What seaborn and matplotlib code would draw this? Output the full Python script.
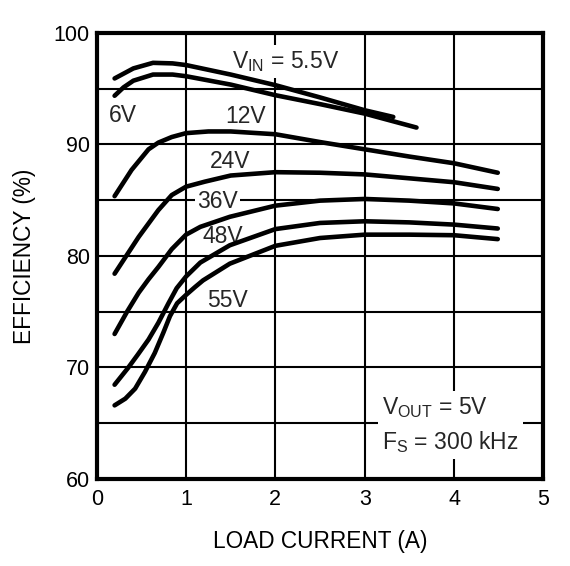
import numpy as np
import pandas as pd
import seaborn as sns
import matplotlib
matplotlib.use("Agg")
from matplotlib import pyplot as plt

# efficiency curves
vin_labels = ["5.5V", "6V", "12V", "24V", "36V", "48V", "55V"]

x_55 = [0.2, 0.41, 0.63, 0.85, 1.0, 1.5, 2.0, 2.5, 3.0, 3.32]
y_55 = [95.9, 96.8, 97.3, 97.25, 97.1, 96.25, 95.3, 94.2, 93.05, 92.45]

x_6 = [0.2, 0.3, 0.41, 0.63, 0.85, 1.0, 1.5, 2.0, 2.5, 3.0, 3.58]
y_6 = [94.35, 95.1, 95.7, 96.25, 96.25, 96.1, 95.35, 94.4, 93.6, 92.75, 91.5]

x_12 = [0.2, 0.39, 0.58, 0.69, 0.84, 1.0, 1.25, 1.5, 2.0, 2.5, 3.0, 3.5, 4.0, 4.49]
y_12 = [85.35, 87.7, 89.55, 90.15, 90.65, 91.0, 91.15, 91.15, 90.9, 90.2, 89.55, 88.9, 88.3, 87.45]

x_24 = [0.2, 0.47, 0.69, 0.84, 1.0, 1.21, 1.5, 2.0, 2.5, 3.0, 3.5, 4.0, 4.49]
y_24 = [78.4, 81.7, 84.1, 85.45, 86.2, 86.65, 87.2, 87.5, 87.45, 87.3, 86.95, 86.6, 86.0]

x_36 = [0.2, 0.34, 0.47, 0.58, 0.69, 0.84, 1.0, 1.16, 1.49, 2.0, 2.5, 3.0, 3.5, 4.0, 4.49]
y_36 = [73.0, 75.0, 76.7, 77.9, 79.0, 80.6, 81.9, 82.6, 83.5, 84.5, 84.95, 85.1, 84.95, 84.7, 84.2]

x_48 = [0.2, 0.35, 0.46, 0.58, 0.69, 0.8, 0.895, 1.0, 1.16, 1.49, 2.0, 2.5, 3.0, 3.5, 4.0, 4.49]
y_48 = [68.45, 69.95, 71.15, 72.5, 74.0, 75.7, 77.1, 78.15, 79.4, 80.95, 82.4, 82.95, 83.1, 83.0, 82.8, 82.45]

x_55v = [0.2, 0.32, 0.43, 0.54, 0.65, 0.745, 0.82, 0.9, 1.0, 1.1, 1.19, 1.49, 2.0, 2.5, 3.0, 3.5, 4.0, 4.49]
y_55v = [66.6, 67.2, 68.1, 69.6, 71.3, 73.1, 74.6, 75.75, 76.5, 77.2, 77.8, 79.3, 80.9, 81.6, 81.9, 81.9, 81.85, 81.5]

x_ticks = [0, 1, 2, 3, 4, 5]
y_ticks = [60, 70, 80, 90, 100]
y_minor = [65, 75, 85, 95]

sns.set_theme(style="white")
plt.rcParams["font.family"] = ["Liberation Sans", "DejaVu Sans"]
plt.rcParams["mathtext.fontset"] = "custom"
plt.rcParams["mathtext.rm"] = "Liberation Sans"
plt.rcParams["mathtext.it"] = "Liberation Sans:italic"

xs = [x_55, x_6, x_12, x_24, x_36, x_48, x_55v]
ys = [y_55, y_6, y_12, y_24, y_36, y_48, y_55v]
frames = []
for lab, xx, yy in zip(vin_labels, xs, ys):
    frames.append(pd.DataFrame({"current": xx, "eff": yy, "vin": lab}))
df = pd.concat(frames, ignore_index=True)

fig = plt.figure(figsize=(5.7, 5.66), dpi=100)
ax = fig.add_axes([0.1697, 0.1537, 0.9532 - 0.1697, 0.9422 - 0.1537])

sns.lineplot(data=df, x="current", y="eff", hue="vin", estimator=None,
             sort=False, palette=["black"] * len(vin_labels), legend=False,
             linewidth=3.3, ax=ax, zorder=2)
for ln in ax.lines:
    ln.set_solid_capstyle("round")
    ln.set_solid_joinstyle("round")

ax.set_xlim(0, 5)
ax.set_ylim(60, 100)
ax.set_xticks(x_ticks)
ax.set_yticks(y_ticks)
ax.set_yticks(y_minor, minor=True)
ax.set_axisbelow(True)
ax.grid(which="both", color="black", linewidth=1.5)
ax.tick_params(axis="both", which="both", length=0, labelsize=15.5, colors="black")
ax.tick_params(axis="x", pad=7)
ax.tick_params(axis="y", pad=5)
for sp in ax.spines.values():
    sp.set_linewidth(3)
    sp.set_color("black")

ax.set_xlabel("LOAD CURRENT (A)", fontsize=16.3, color="black")
ax.set_ylabel("EFFICIENCY (%)", fontsize=16.3, color="black")
ax.xaxis.set_label_coords(0.5, -0.114)
ax.yaxis.set_label_coords(-0.135, 0.5)

fs = 16.5
box = dict(facecolor="white", edgecolor="none", pad=1.5)
ax.text(1.51, 96.8, r"V$_{\mathrm{IN}}$ = 5.5V", fontsize=fs, va="baseline",
        bbox=dict(facecolor="white", edgecolor="none", pad=3), zorder=1.5)
ax.text(0.138, 92.0, "6V", fontsize=fs, va="baseline", zorder=1.5)
ax.text(1.437, 91.9, "12V", fontsize=fs, va="baseline", zorder=1.5)
ax.text(1.269, 87.88, "24V", fontsize=fs, va="baseline", zorder=1.5)
ax.text(1.123, 84.3, "36V", fontsize=fs, va="baseline", bbox=box, zorder=1.5)
ax.text(1.18, 81.16, "48V", fontsize=fs, va="baseline", zorder=1.5)
ax.text(1.235, 75.4, "55V", fontsize=fs, va="baseline", zorder=1.5)
ax.text(3.195, 67.55, "V$_{\\mathrm{OUT}}$ = 5V\nF$_{\\mathrm{S}}$ = 300 kHz",
        fontsize=fs, va="top", linespacing=1.45,
        bbox=dict(facecolor="white", edgecolor="none", pad=3), zorder=1.5)

fig.savefig("out.png", dpi=100)
